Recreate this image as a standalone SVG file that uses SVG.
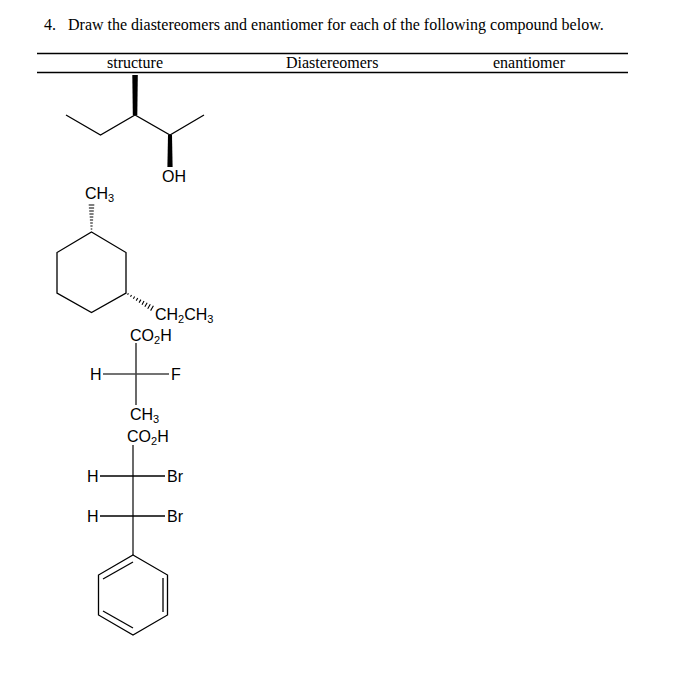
<svg xmlns="http://www.w3.org/2000/svg" width="689" height="674" viewBox="0 0 689 674">
<style>
.t{font-family:"Liberation Serif",serif;font-size:16px;fill:#000}
.c{font-family:"Liberation Sans",Arial,sans-serif;font-size:16px;fill:#000}
.s{font-size:11px}
.b{fill:none;stroke:#000;stroke-width:1.3}
.g{fill:none;stroke:#444;stroke-width:1.6}
.h{fill:none;stroke:#000;stroke-width:1.1}
.r{stroke:#000;stroke-width:1.4}
</style>
<rect width="689" height="674" fill="#fff"/>
<g id="heading">
<text class="t" x="44" y="30">4.</text>
<text class="t" x="68" y="30">Draw the diastereomers and enantiomer for each of the following compound below.</text>
<line class="r" x1="37" y1="53.5" x2="628" y2="53.5"/>
<line class="r" x1="37" y1="72.5" x2="628" y2="72.5"/>
<text class="t" x="107" y="68">structure</text>
<text class="t" x="286" y="68">Diastereomers</text>
<text class="t" x="493" y="68">enantiomer</text>
</g>
<g id="structure-1">
<polyline class="b" points="66,115 100.5,135 135,115 170,135 204,115"/>
<polygon points="132.3,75 137.8,75 137.3,115 132.8,115" fill="#000"/>
<polygon points="168,135 172,135 172.6,167 167.4,167" fill="#000"/>
<text class="c" x="162" y="182">OH</text>
</g>
<g id="structure-2">
<polygon class="b" points="91.5,232 126,252.5 126,293 91.5,312.5 57,293 57,252.5"/>
<path class="h" d="M90.7 229H92.3M90.4 226H92.6M90.2 223H92.8M89.9 220H93.1M89.7 217H93.3M89.4 214H93.6M89.2 211H93.8M88.9 208H94.1M88.7 205H94.3"/>
<path class="h" d="M127.6 294.7L128.4 293.3M130.5 296.7L131.5 294.9M133.35 298.7L134.65 296.5M136.2 300.6L137.8 298M139.1 302.6L140.9 299.6M142 304.7L144 301.1M144.85 306.7L147.15 302.7M147.7 308.7L150.3 304.3M150.6 310.6L153.4 305.8"/>
<text class="c" x="85" y="199">CH<tspan class="s" dy="3">3</tspan></text>
<text class="c" x="155" y="320">CH<tspan class="s" dy="3">2</tspan><tspan dy="-3">CH</tspan><tspan class="s" dy="3">3</tspan></text>
</g>
<g id="structure-3">
<line class="g" x1="136" y1="343" x2="136" y2="405"/>
<line class="g" x1="103" y1="374" x2="169" y2="374"/>
<text class="c" x="130" y="341">CO<tspan class="s" dy="3">2</tspan><tspan dy="-3">H</tspan></text>
<text class="c" x="90" y="380">H</text>
<text class="c" x="171" y="380">F</text>
<text class="c" x="130" y="420">CH<tspan class="s" dy="3">3</tspan></text>
</g>
<g id="structure-4">
<line class="g" x1="133" y1="445" x2="133" y2="555"/>
<line class="b" x1="100" y1="476" x2="165" y2="476"/>
<line class="b" x1="100" y1="516" x2="165" y2="516"/>
<text class="c" x="127" y="442">CO<tspan class="s" dy="3">2</tspan><tspan dy="-3">H</tspan></text>
<text class="c" x="87" y="482">H</text>
<text class="c" x="167" y="482">Br</text>
<text class="c" x="87" y="522">H</text>
<text class="c" x="167" y="522">Br</text>
<polygon class="b" points="133,555 167.5,575 167.5,615 133,635 98.5,615 98.5,575"/>
<line class="b" x1="133" y1="562" x2="103" y2="579"/>
<line class="b" x1="163" y1="578" x2="163" y2="612"/>
<line class="b" x1="103" y1="611" x2="133" y2="628"/>
</g>
</svg>
